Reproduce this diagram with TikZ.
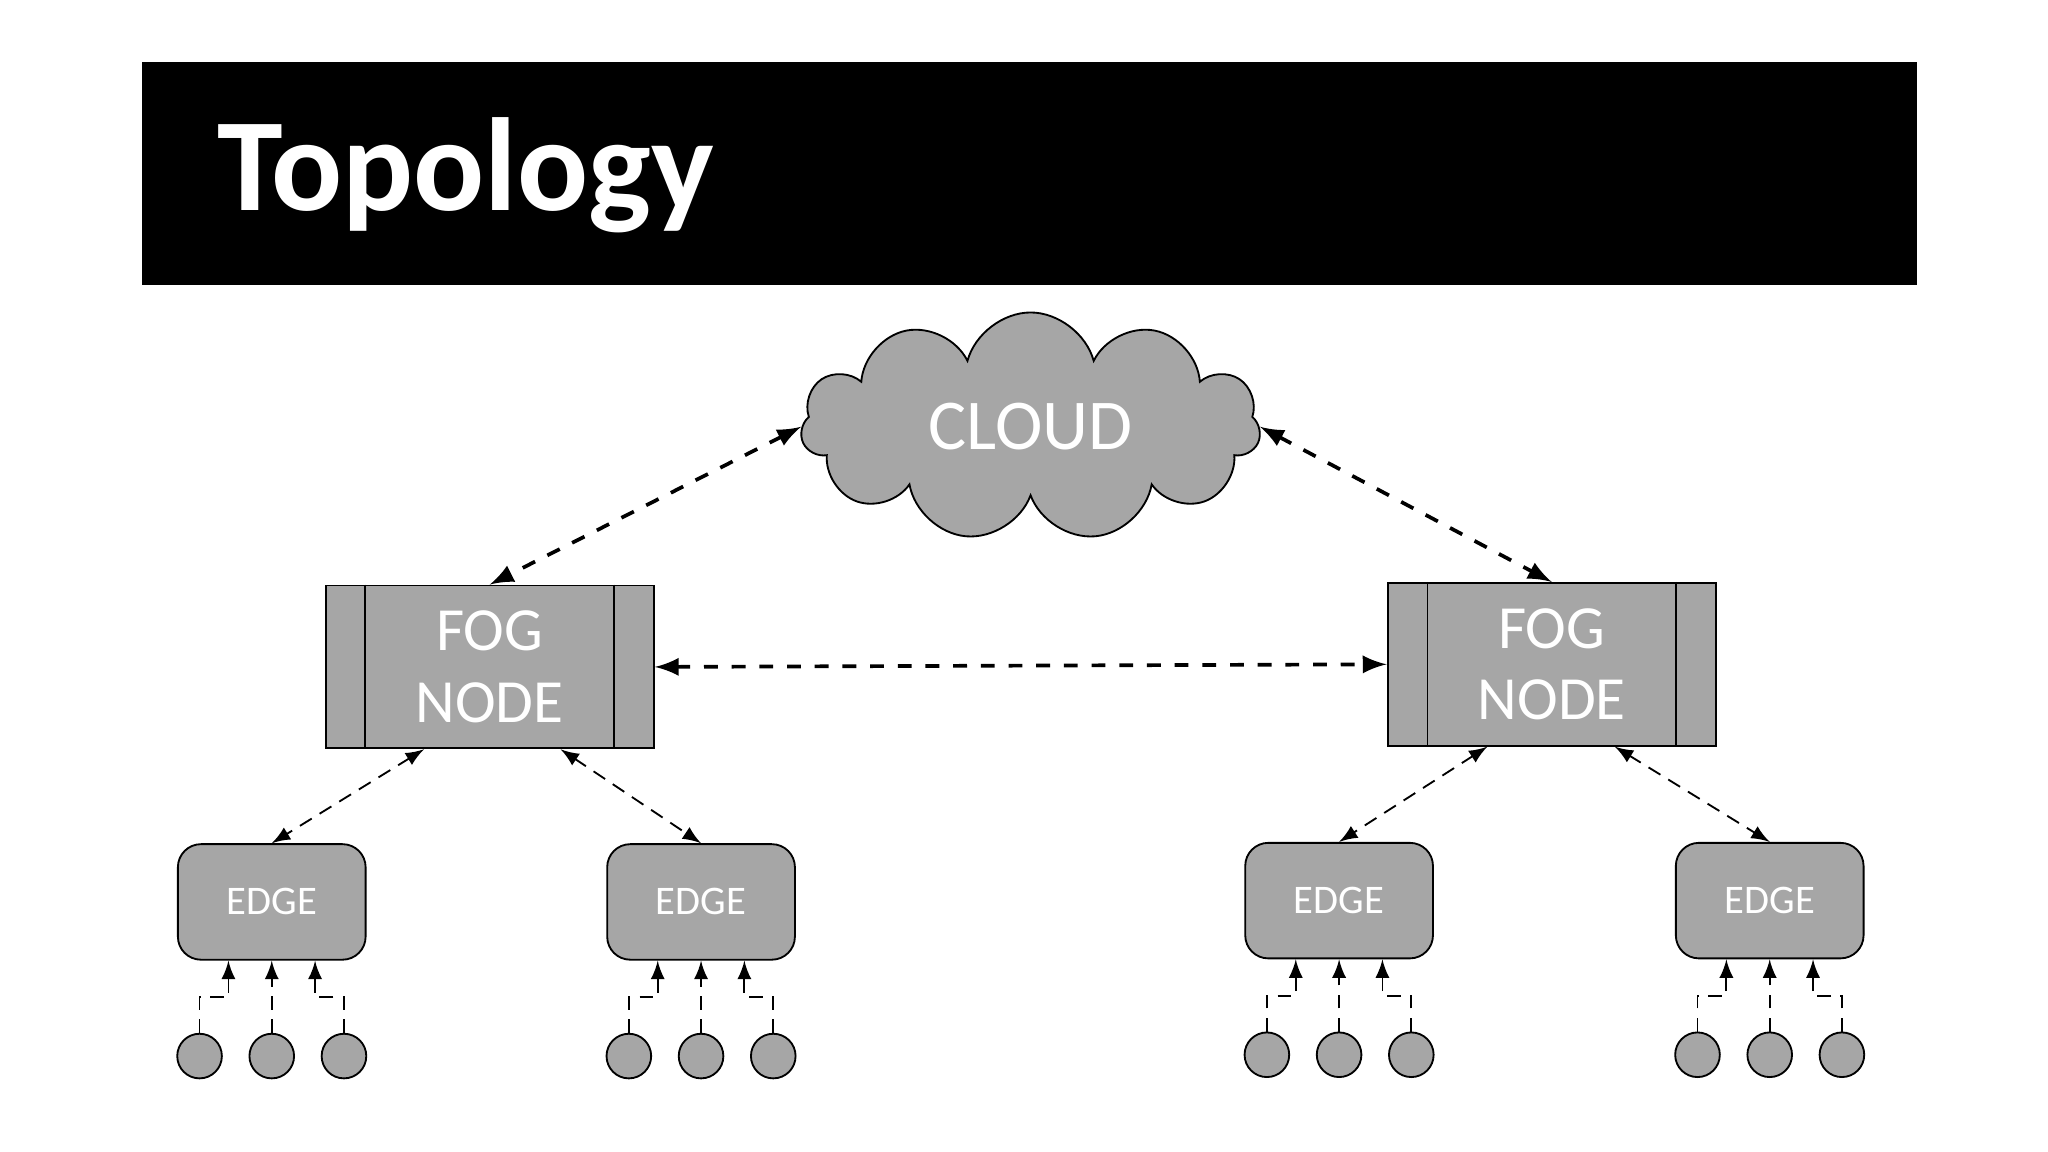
\documentclass[tikz,border=0pt]{standalone}
\usepackage{fontspec}
\setmainfont{Carlito}
\usetikzlibrary{arrows,shapes,positioning}
\definecolor{boxgray}{HTML}{A6A6A6}
\tikzset{
  basic/.style  = {draw, fill=boxgray, text=white, align=center},
  cloudnode/.style = {basic, cloud, cloud puffs=11, aspect=2.1, inner sep=0pt,
                   minimum width=3.5cm, minimum height=1.74cm, font=\fontsize{15.5}{18}\selectfont},
  fog/.style    = {basic, rectangle, minimum width=2.5cm, minimum height=1.24cm,
                   inner sep=0pt, font=\fontsize{13.3}{15.5}\selectfont},
  edge/.style   = {basic, rectangle, rounded corners=5pt, minimum width=1.43cm,
                   minimum height=0.88cm, font=\fontsize{8.8}{10}\selectfont},
  leaf/.style   = {basic, circle, minimum size=0.34cm, inner sep=0pt},
  big link/.style = {<->, thick, dashed},
  small link/.style = {<->, densely dashed},
  leaf link/.style = {->, densely dashed}
}

\begin{document}
\begin{tikzpicture}[>=latex]
\useasboundingbox (0,0) rectangle (15.6,-8.77);

% title bar
\fill (1.08,-0.47) rectangle (14.6,-2.17);
\node[anchor=base west, text=white, font=\fontsize{28.7}{32}\selectfont\bfseries]
  (title) at (1.53,-1.6) {Topology};

% cloud and fog layer
\node[cloudnode] (cloud) at (7.85,-3.25) {CLOUD};
\node[fog] (fog1) at (3.73,-5.08) {FOG\\NODE};
\node[fog] (fog2) at (11.82,-5.06) {FOG\\NODE};
\foreach \f in {fog1,fog2} {
  \draw ([xshift=0.31cm]\f.north west) -- ([xshift=0.31cm]\f.south west);
  \draw ([xshift=-0.31cm]\f.north east) -- ([xshift=-0.31cm]\f.south east);
}

% edge layer
\node[edge] (e1) at (2.07,-6.87) {EDGE};
\node[edge] (e2) at (5.34,-6.87) {EDGE};
\node[edge] (e3) at (10.2,-6.86) {EDGE};
\node[edge] (e4) at (13.48,-6.86) {EDGE};

% devices under each edge
\foreach \e in {1,...,4} {
  \node[leaf, below=0.55cm of e\e, xshift=-0.55cm] (e\e1) {};
  \node[leaf, below=0.55cm of e\e] (e\e2) {};
  \node[leaf, below=0.55cm of e\e, xshift=0.55cm] (e\e3) {};
  \draw[leaf link] (e\e1.north) -- ++(0,0.27) -| ([xshift=-0.33cm]e\e.south);
  \draw[leaf link] (e\e2.north) -- (e\e.south);
  \draw[leaf link] (e\e3.north) -- ++(0,0.27) -| ([xshift=0.33cm]e\e.south);
}

% links
\draw[big link] (cloud.west) -- (fog1.north);
\draw[big link] (cloud.east) -- (fog2.north);
\draw[big link] (fog1.east) -- (fog2.west);
\draw[small link] ([xshift=-0.5cm]fog1.south) -- (e1.north);
\draw[small link] ([xshift=0.54cm]fog1.south) -- (e2.north);
\draw[small link] ([xshift=-0.49cm]fog2.south) -- (e3.north);
\draw[small link] ([xshift=0.48cm]fog2.south) -- (e4.north);
\end{tikzpicture}
\end{document}
